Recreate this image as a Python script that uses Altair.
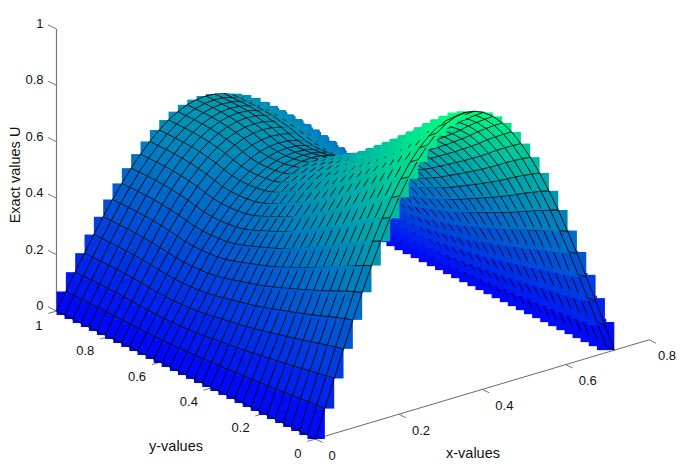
import altair as alt
import pandas as pd

# values
x_values = [0.0, 0.0224, 0.0448, 0.0672, 0.0896, 0.112, 0.1343, 0.1567, 0.1791, 0.2015, 0.2239,
            0.2463, 0.2687, 0.2911, 0.3135, 0.3359, 0.3583, 0.3806, 0.403, 0.4254, 0.4478,
            0.4702, 0.4926, 0.515, 0.5374, 0.5598, 0.5822, 0.6045, 0.6269, 0.6493, 0.6717,
            0.6941, 0.7165]
y_values = [0.0, 0.031, 0.0625, 0.094, 0.125, 0.156, 0.1875, 0.219, 0.25, 0.281, 0.3125, 0.344,
            0.375, 0.406, 0.4375, 0.469, 0.5, 0.531, 0.5625, 0.594, 0.625, 0.656, 0.6875, 0.719,
            0.75, 0.781, 0.8125, 0.844, 0.875, 0.906, 0.9375, 0.969, 1.0]
# height of the arch across x (at y = 0), and how it falls off along y
arch_along_x = [0.0, 0.098, 0.195, 0.29, 0.383, 0.471, 0.556, 0.634, 0.707, 0.773, 0.831, 0.882,
                0.924, 0.957, 0.981, 0.995, 1.0, 0.995, 0.981, 0.957, 0.924, 0.882, 0.831, 0.773,
                0.707, 0.634, 0.556, 0.471, 0.383, 0.29, 0.195, 0.098, 0.0]
level_along_y = [1.0, 0.975, 0.948, 0.92, 0.89, 0.862, 0.835, 0.808, 0.783, 0.758, 0.733, 0.708,
                 0.686, 0.667, 0.648, 0.63, 0.612, 0.595, 0.58, 0.57, 0.565, 0.562, 0.562, 0.566,
                 0.575, 0.585, 0.592, 0.598, 0.602, 0.604, 0.605, 0.605, 0.605]
x_ticks = [0, 0.2, 0.4, 0.6, 0.8]
y_ticks = [0, 0.2, 0.4, 0.6, 0.8, 1]
z_ticks = [0, 0.2, 0.4, 0.6, 0.8, 1]
tick_text = {0: "0", 0.2: "0.2", 0.4: "0.4", 0.6: "0.6", 0.8: "0.8", 1: "1"}

W, H = 669, 455


def proj(x, y, z):
    return 315.5 + 417 * x - 259 * y - 8, 439 - 124 * x - 128 * y - 282 * z - 8


def depth(x, y, z):
    return -73038 * x - 117594 * y + 85492 * z


def winter(u):
    u = max(0.0, min(1.0, u))
    return "#00%02x%02x" % (int(round(255 * u)), int(round(255 * (1 - u / 2))))


rows = []


def seg(a, b, color, size):
    rows.append(dict(x=round(a[0], 2), x2=round(b[0], 2), y=round(a[1], 2), y2=round(b[1], 2), c=color, s=size))


# axes
AX, TK = "#555555", 0.8
seg(proj(0, 0, 0), proj(0.8, 0, 0), "#444444", 0.8)
seg(proj(0, 0, 0), proj(0, 1, 0), "#444444", 0.8)
seg(proj(0, 1, 0), proj(0, 1, 1), "#777777", 1.2)
for t in x_ticks:
    seg(proj(t, 0, 0), proj(t, -0.027, 0), AX, TK)
for t in y_ticks:
    seg(proj(0, t, 0), proj(-0.02, t, 0), AX, TK)
for t in z_ticks:
    seg(proj(0, 1, t), proj(0, 1.033, t), AX, TK)

# surface: each cell is its coloured bounding box, then its black edges, far cells first
U = [[a * b for a in arch_along_x] for b in level_along_y]
cells = []
for j in range(len(y_values) - 1):
    for i in range(len(x_values) - 1):
        corners = [(x_values[i], y_values[j], U[j][i]), (x_values[i + 1], y_values[j], U[j][i + 1]),
                   (x_values[i + 1], y_values[j + 1], U[j + 1][i + 1]), (x_values[i], y_values[j + 1], U[j + 1][i])]
        d = sum(depth(*c) for c in corners) / 4
        cells.append((d, corners))
cells.sort(key=lambda t: t[0])
for d, corners in cells:
    pts = [proj(*c) for c in corners]
    xs = [p[0] for p in pts]
    ys = [p[1] for p in pts]
    mean_u = sum(c[2] for c in corners) / 4
    mid = (min(ys) + max(ys)) / 2
    seg((min(xs), mid), (max(xs), mid), winter(mean_u), round(max(ys) - min(ys), 2))
    for a in range(4):
        seg(pts[a], pts[(a + 1) % 4], "#000000", 0.85)

df = pd.DataFrame(rows)

sx = alt.Scale(domain=[0, W], range=[0, W])
sy = alt.Scale(domain=[0, H], range=[0, H])
surface = alt.Chart(df).mark_rule().encode(
    x=alt.X("x:Q", scale=sx, axis=None),
    x2="x2:Q",
    y=alt.Y("y:Q", scale=sy, axis=None),
    y2="y2:Q",
    color=alt.Color("c:N", scale=None),
    size=alt.Size("s:Q", scale=None),
)

FONT = "Liberation Sans"
labels_r, labels_l = [], []
for t in z_ticks:
    p = proj(0, 1, t)
    labels_r.append(dict(x=p[0] - 13, y=p[1] - 5, t=tick_text[t]))
for t in y_ticks:
    p = proj(0, t, 0)
    labels_r.append(dict(x=p[0] - 14, y=p[1] + 14.5, t=tick_text[t]))
for t in x_ticks:
    p = proj(t, 0, 0)
    # the last label would run past the page's right edge
    labels_l.append(dict(x=min(p[0] + 13, W - 19), y=p[1] + 16.5, t=tick_text[t]))


def text_layer(data, **kw):
    return alt.Chart(pd.DataFrame(data)).mark_text(font=FONT, baseline="middle", color="#111111", **kw).encode(
        x=alt.X("x:Q", scale=sx, axis=None), y=alt.Y("y:Q", scale=sy, axis=None), text="t:N")


chart = alt.layer(
    surface,
    text_layer(labels_r, align="right", fontSize=13),
    text_layer(labels_l, align="left", fontSize=13),
    text_layer([dict(x=473 - 8, y=454 - 8, t="x-values"), dict(x=176 - 8, y=447 - 8, t="y-values")],
               align="center", fontSize=14.5),
    text_layer([dict(x=16 - 8, y=175 - 8, t="Exact values U")], align="center", angle=270, fontSize=14.5),
).properties(width=W, height=H, padding=0, autosize=alt.AutoSizeParams(type="none")).configure_view(stroke=None)

chart.save("out.html", embed_options={"renderer": "svg", "actions": False})
